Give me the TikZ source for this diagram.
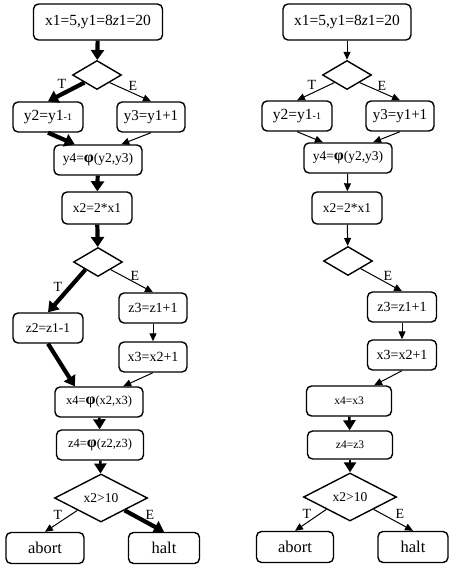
\documentclass[tikz,border=0pt]{standalone}
\usepackage{fontspec}
\setmainfont{Liberation Serif}
\usetikzlibrary{shapes.geometric,arrows.meta}
\newcommand{\phis}{{\fontsize{16}{16}\selectfont\bfseries φ}}
\newcommand{\fs}[1]{\fontsize{#1}{#1}\selectfont}
\begin{document}
\begin{tikzpicture}[x=1pt,y=-1pt,
	box/.style={draw, line width=1.4pt, rounded corners=5pt, minimum height=30pt, inner sep=1pt},
	cond/.style={draw, diamond, line width=1.4pt, inner sep=0pt, minimum width=49pt, minimum height=29pt},
	lbl/.style={font=\fs{14}},
	flow/.style={line width=1pt, -{Triangle[length=8pt,width=7pt]}},
	warm/.style={line width=2.5pt, -{Triangle[length=10pt,width=12pt]}},
	hot/.style={line width=4.2pt, -{Triangle[length=10pt,width=13pt]}}]
	\useasboundingbox (0,0) rectangle (454,569);
	% left graph
	\node[box, minimum width=129pt, minimum height=36pt, font=\fs{15.5}] (lentry) at (98,22) {x1=5,y1=8\textit{z}1=20};
	\node[cond] (lif1) at (97,75) {};
	\node[box, minimum width=70pt, font=\fs{15.5}] (ly2) at (48,117) {y2=y1{\fs{10}-1}};
	\node[box, minimum width=68pt, font=\fs{15}] (ly3) at (151,117) {y3=y1+1};
	\node[box, minimum width=88pt, font=\fs{13.5}] (ly4) at (98,160) {y4=\phis(y2,y3)};
	\node[box, minimum width=70pt, minimum height=32pt, font=\fs{13.5}] (lx2) at (97,208) {x2=2*x1};
	\node[cond] (lif2) at (98,262) {};
	\node[box, minimum width=70pt, font=\fs{13.5}] (lz2) at (48,328) {z2=z1-1};
	\node[box, minimum width=68pt, font=\fs{14}] (lz3) at (153,308) {z3=z1+1};
	\node[box, minimum width=68pt, font=\fs{14}] (lx3) at (153,357) {x3=x2+1};
	\node[box, minimum width=88pt, font=\fs{12.5}] (lx4) at (99,402) {x4=\phis(x2,x3)};
	\node[box, minimum width=87pt, font=\fs{12.5}] (lz4) at (100,445) {z4=\phis(z2,z3)};
	\node[cond, minimum width=93pt, minimum height=48pt, font=\fs{13.5}] (lif3) at (101,498) {x2>10};
	\node[box, minimum width=78pt, minimum height=31pt, font=\fs{16.5}] (labort) at (45,548) {abort};
	\node[box, minimum width=71pt, minimum height=31pt, font=\fs{16.5}] (lhalt) at (164,548) {halt};
	\node[lbl] (lt1) at (62,84) {T};
	\node[lbl] (le1) at (133,86) {E};
	\node[lbl] (lt2) at (58,287) {T};
	\node[lbl] (le2) at (135,276) {E};
	\node[lbl] (lt3) at (58,515) {T};
	\node[lbl] (le3) at (150,515) {E};
	\draw[hot] (lentry) -- (lif1);
	\draw[hot] (lif1.south west) -- (ly2.north);
	\draw[flow] (lif1.south east) -- (ly3.north);
	\draw[hot] (ly2.south) -- (ly4.146);
	\draw[flow] (ly3.south) -- (ly4.34);
	\draw[hot] (ly4) -- (lx2);
	\draw[hot] (lx2) -- (lif2);
	\draw[hot] (lif2.south west) -- (lz2.north);
	\draw[flow] (lif2.south east) -- (lz3.north);
	\draw[flow] (lz3) -- (lx3);
	\draw[hot] (lz2.south) -- (lx4.147);
	\draw[flow] (lx3.south) -- (lx4.33);
	\draw[warm] (lx4) -- (lz4);
	\draw[warm] (lz4) -- (lif3);
	\draw[flow] (lif3.south west) -- (labort.north);
	\draw[hot] (lif3.south east) -- (lhalt.north);
	% right graph
	\node[box, minimum width=128pt, minimum height=36pt, font=\fs{15.5}] (rentry) at (347,22) {x1=5,y1=8\textit{z}1=20};
	\node[cond] (rif1) at (347,75) {};
	\node[box, minimum width=70pt, font=\fs{15.5}] (ry2) at (297,116) {y2=y1{\fs{10}-1}};
	\node[box, minimum width=68pt, font=\fs{15}] (ry3) at (400,116) {y3=y1+1};
	\node[box, minimum width=88pt, font=\fs{13.5}] (ry4) at (348,158) {y4=\phis(y2,y3)};
	\node[box, minimum width=70pt, minimum height=32pt, font=\fs{13.5}] (rx2) at (347,208) {x2=2*x1};
	\node[cond] (rif2) at (348,261) {};
	\node[box, minimum width=69pt, font=\fs{14}] (rz3) at (402,307) {z3=z1+1};
	\node[box, minimum width=69pt, font=\fs{14}] (rx3) at (402,355) {x3=x2+1};
	\node[box, minimum width=85pt, font=\fs{11.5}] (rx4) at (349,401) {x4=x3};
	\node[box, minimum width=85pt, minimum height=28pt, font=\fs{11.5}] (rz4) at (350,445) {z4=z3};
	\node[cond, minimum width=93pt, minimum height=48pt, font=\fs{13.5}] (rif3) at (350,497) {x2>10};
	\node[box, minimum width=77pt, minimum height=31pt, font=\fs{16.5}] (rabort) at (295,547) {abort};
	\node[box, minimum width=70pt, minimum height=31pt, font=\fs{16.5}] (rhalt) at (413,547) {halt};
	\node[lbl] (rt1) at (312,85) {T};
	\node[lbl] (re1) at (382,86) {E};
	\node[lbl] (re2) at (388,276) {E};
	\node[lbl] (rt3) at (307,514) {T};
	\node[lbl] (re3) at (400,514) {E};
	\draw[flow] (rentry) -- (rif1);
	\draw[flow] (rif1.south west) -- (ry2.north);
	\draw[flow] (rif1.south east) -- (ry3.north);
	\draw[flow] (ry2.south) -- (ry4.148);
	\draw[flow] (ry3.south) -- (ry4.32);
	\draw[flow] (ry4) -- (rx2);
	\draw[flow] (rx2) -- (rif2);
	\draw[flow] (rif2.south east) -- (rz3.north);
	\draw[flow] (rz3) -- (rx3);
	\draw[flow] (rx3.south) -- (rx4.32);
	\draw[warm] (rx4) -- (rz4);
	\draw[warm] (rz4) -- (rif3);
	\draw[flow] (rif3.south west) -- (rabort.north);
	\draw[flow] (rif3.south east) -- (rhalt.north);
\end{tikzpicture}
\end{document}
